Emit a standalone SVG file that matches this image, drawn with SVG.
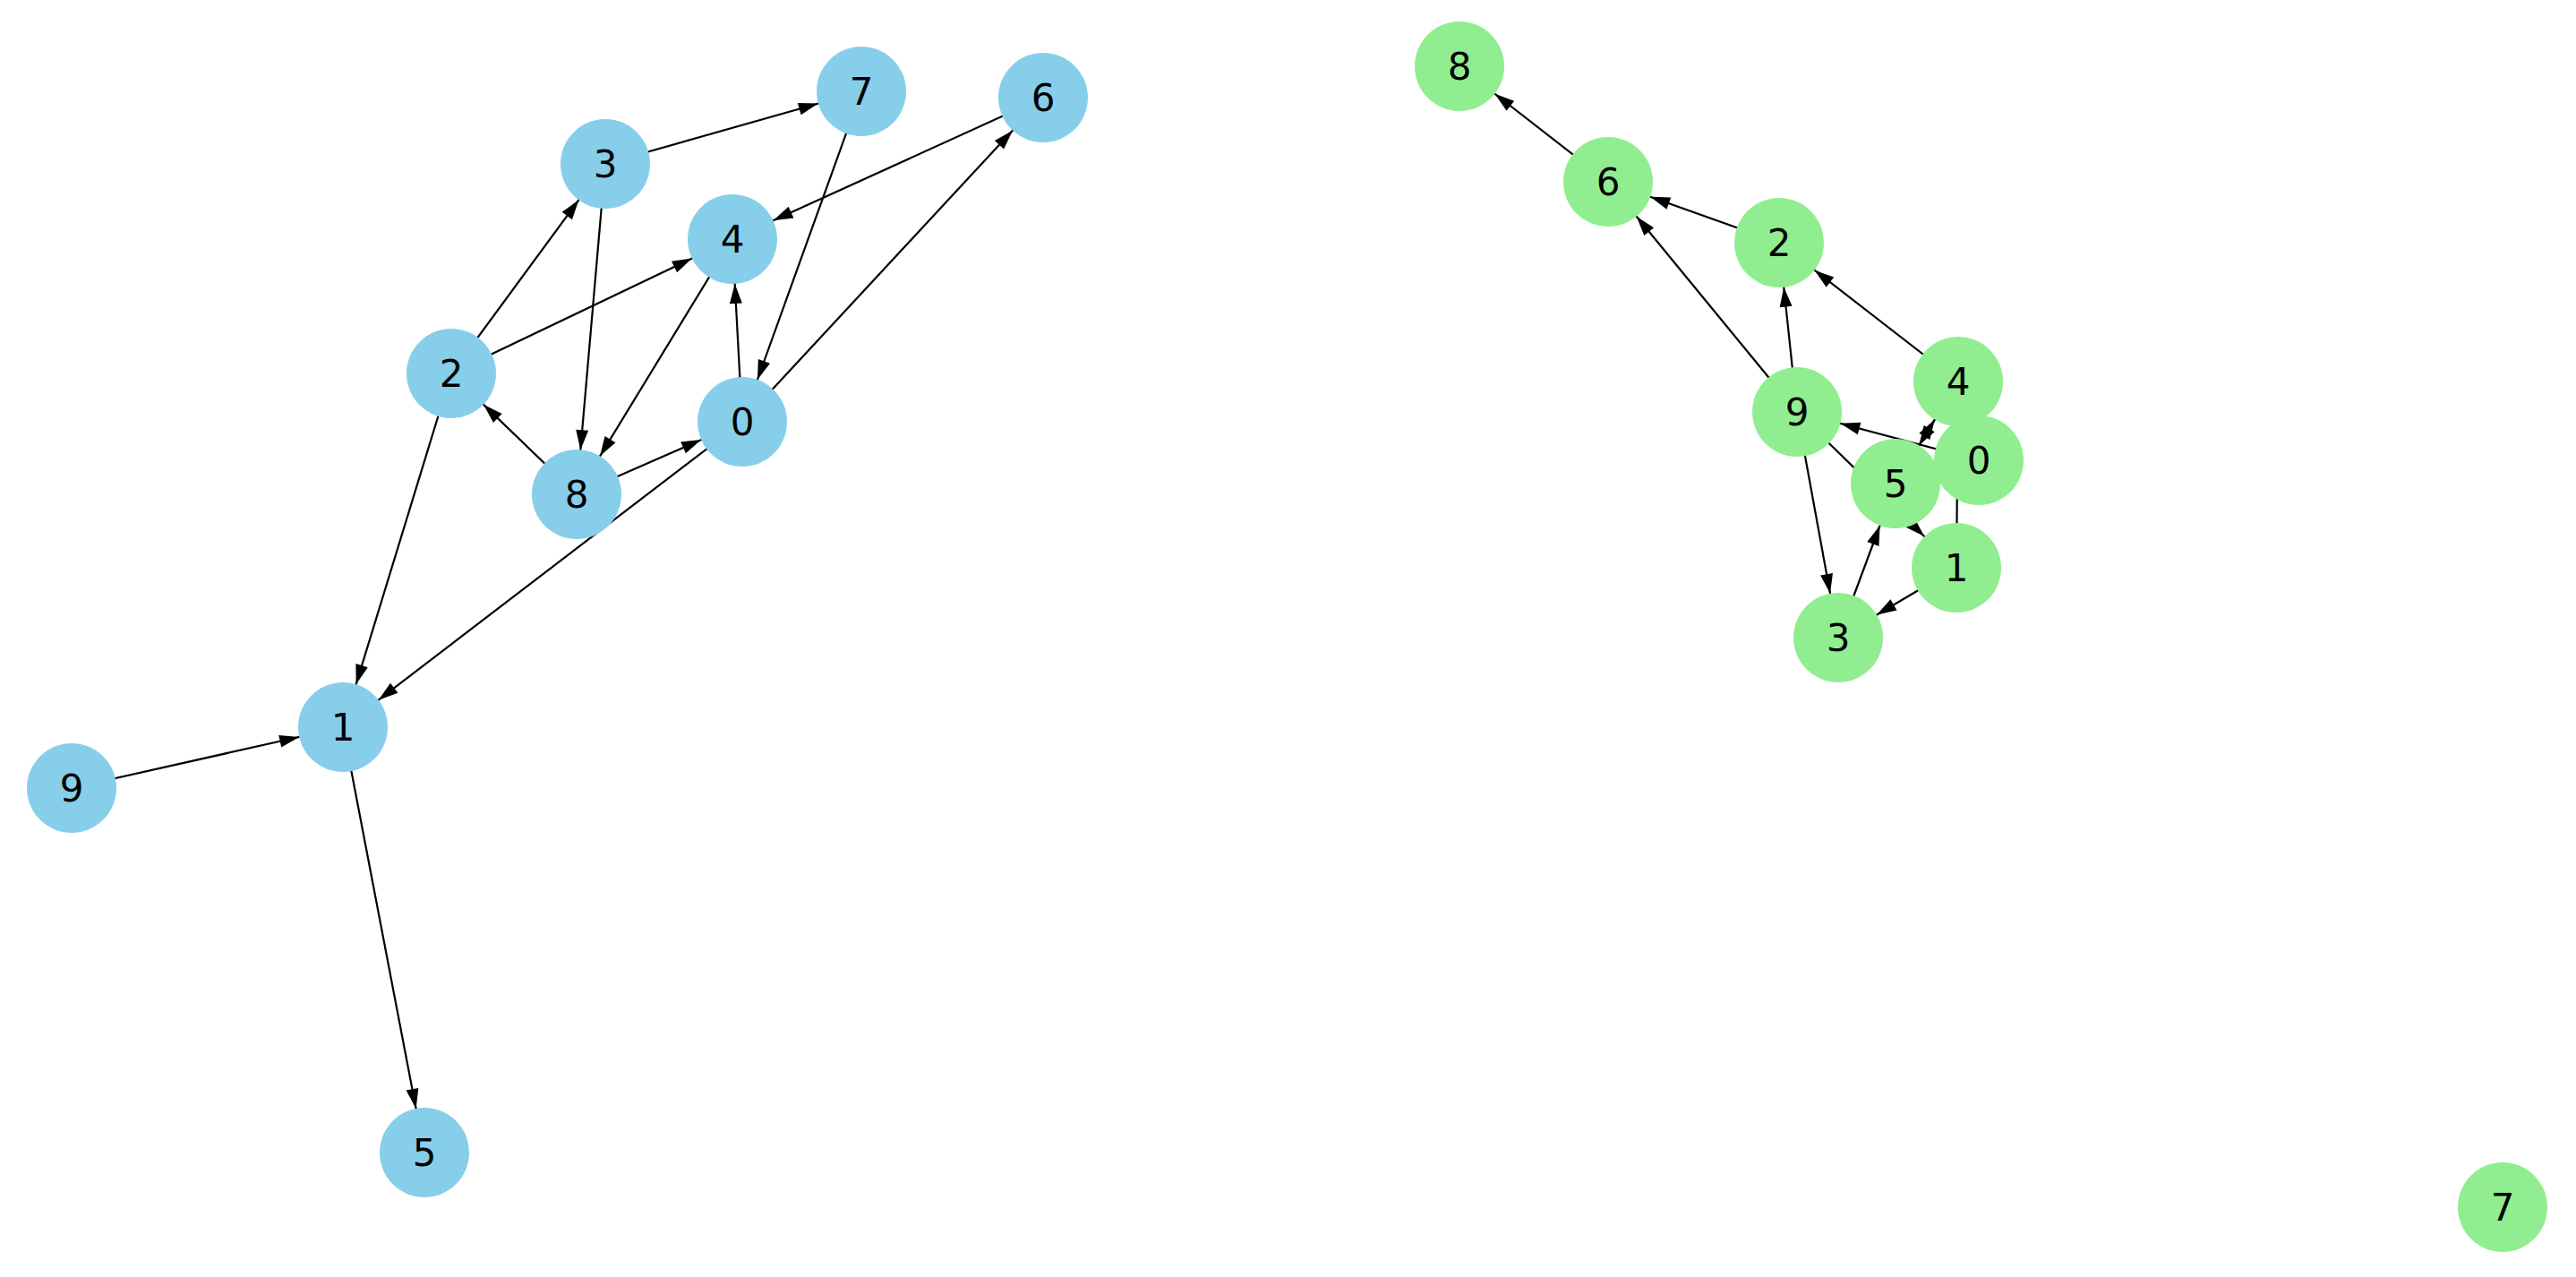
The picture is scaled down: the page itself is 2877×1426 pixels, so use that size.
<svg xmlns="http://www.w3.org/2000/svg" width="2877" height="1426" viewBox="0 0 2877 1426">
<style>
.e{stroke:#000;stroke-width:2.2;fill:none;marker-end:url(#a)}
.b{fill:#87CEEB}.g{fill:#90EE90}
text{font-family:"DejaVu Sans",sans-serif;font-size:42px;fill:#000;text-anchor:middle;dominant-baseline:central}
</style>
<defs><marker id="a" markerUnits="userSpaceOnUse" viewBox="0 -10 80 20" markerWidth="80" markerHeight="20" refX="80" refY="0" orient="auto"><path d="M8,-7 L30,0 L8,7 z" fill="#000"/></marker></defs>
<rect width="2877" height="1426" fill="#fff"/>
<g id="edges">
<line class="e" x1="676" y1="183" x2="962" y2="102"/>
<line class="e" x1="962" y1="102" x2="829" y2="471"/>
<line class="e" x1="1165" y1="109" x2="818" y2="267"/>
<line class="e" x1="829" y1="471" x2="1165" y2="109"/>
<line class="e" x1="504" y1="417" x2="676" y2="183"/>
<line class="e" x1="504" y1="417" x2="818" y2="267"/>
<line class="e" x1="676" y1="183" x2="644" y2="552"/>
<line class="e" x1="818" y1="267" x2="644" y2="552"/>
<line class="e" x1="829" y1="471" x2="818" y2="267"/>
<line class="e" x1="644" y1="552" x2="504" y2="417"/>
<line class="e" x1="644" y1="552" x2="829" y2="471"/>
<line class="e" x1="829" y1="471" x2="383" y2="812"/>
<line class="e" x1="504" y1="417" x2="383" y2="812"/>
<line class="e" x1="80" y1="880" x2="383" y2="812"/>
<line class="e" x1="383" y1="812" x2="474" y2="1287"/>
<line class="e" x1="1796" y1="203" x2="1630" y2="74"/>
<line class="e" x1="1987" y1="271" x2="1796" y2="203"/>
<line class="e" x1="2007" y1="460" x2="1796" y2="203"/>
<line class="e" x1="2007" y1="460" x2="1987" y2="271"/>
<line class="e" x1="2187" y1="426" x2="1987" y2="271"/>
<line class="e" x1="2210" y1="514" x2="2007" y2="460"/>
<line class="e" x1="2117" y1="540" x2="2187" y2="426"/>
<line class="e" x1="2187" y1="426" x2="2117" y2="540"/>
<line class="e" x1="2007" y1="460" x2="2185" y2="634"/>
<line class="e" x1="2007" y1="460" x2="2053" y2="712"/>
<line class="e" x1="2053" y1="712" x2="2117" y2="540"/>
<line class="e" x1="2185" y1="634" x2="2053" y2="712"/>
<line class="e" x1="2185" y1="634" x2="2187" y2="426"/>
</g>
<g id="b7"><circle class="b" cx="962" cy="102" r="50"/><text x="962" y="102">7</text></g>
<g id="b6"><circle class="b" cx="1165" cy="109" r="50"/><text x="1165" y="109">6</text></g>
<g id="b3"><circle class="b" cx="676" cy="183" r="50"/><text x="676" y="183">3</text></g>
<g id="b4"><circle class="b" cx="818" cy="267" r="50"/><text x="818" y="267">4</text></g>
<g id="b2"><circle class="b" cx="504" cy="417" r="50"/><text x="504" y="417">2</text></g>
<g id="b0"><circle class="b" cx="829" cy="471" r="50"/><text x="829" y="471">0</text></g>
<g id="b8"><circle class="b" cx="644" cy="552" r="50"/><text x="644" y="552">8</text></g>
<g id="b1"><circle class="b" cx="383" cy="812" r="50"/><text x="383" y="812">1</text></g>
<g id="b9"><circle class="b" cx="80" cy="880" r="50"/><text x="80" y="880">9</text></g>
<g id="b5"><circle class="b" cx="474" cy="1287" r="50"/><text x="474" y="1287">5</text></g>
<g id="g8"><circle class="g" cx="1630" cy="74" r="50"/><text x="1630" y="74">8</text></g>
<g id="g6"><circle class="g" cx="1796" cy="203" r="50"/><text x="1796" y="203">6</text></g>
<g id="g2"><circle class="g" cx="1987" cy="271" r="50"/><text x="1987" y="271">2</text></g>
<g id="g4"><circle class="g" cx="2187" cy="426" r="50"/><text x="2187" y="426">4</text></g>
<g id="g9"><circle class="g" cx="2007" cy="460" r="50"/><text x="2007" y="460">9</text></g>
<g id="g0"><circle class="g" cx="2210" cy="514" r="50"/><text x="2210" y="514">0</text></g>
<g id="g5"><circle class="g" cx="2117" cy="540" r="50"/><text x="2117" y="540">5</text></g>
<g id="g1"><circle class="g" cx="2185" cy="634" r="50"/><text x="2185" y="634">1</text></g>
<g id="g3"><circle class="g" cx="2053" cy="712" r="50"/><text x="2053" y="712">3</text></g>
<g id="g7"><circle class="g" cx="2795" cy="1348" r="50"/><text x="2795" y="1348">7</text></g>
</svg>
